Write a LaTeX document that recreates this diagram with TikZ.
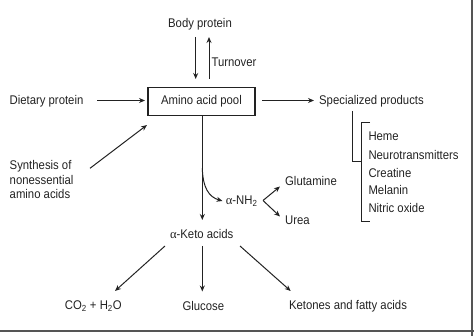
\documentclass[tikz,border=0pt]{standalone}
\usepackage{fontspec}
\setmainfont[FakeStretch=0.9]{Liberation Sans}
\newfontfamily\greekserif{Liberation Serif}
\newcommand{\alphaglyph}{{\greekserif α}}
\usetikzlibrary{arrows.meta}
\definecolor{ink}{HTML}{222222}
\definecolor{frame}{HTML}{555555}
\begin{document}
\begin{tikzpicture}[x=1pt,y=-1pt,
  every node/.style={font=\fontsize{12.6}{14}\selectfont, text=ink, inner sep=0pt},
  arr/.style={draw=ink, line width=1pt, -{Stealth[length=6pt,width=5pt]}},
  ln/.style={draw=ink, line width=1pt},
  poolbox/.style={draw=ink, line width=1.1pt, minimum width=107pt, minimum height=28pt}]
\useasboundingbox (0,0) rectangle (474,336);
\draw[frame, line width=2.2pt] (0,330.7) -- (474,330.7);
\draw[frame, line width=2.2pt] (472,0) -- (472,336);

\node (body) at (200,24) {Body protein};
\node (pool) [poolbox] at (201.5,101.5) {Amino acid pool};
\node (turn) at (234,62) {Turnover};
\node (diet) at (46.5,101) {Dietary protein};
\node (spec) at (371.5,101) {Specialized products};
\node (syn) [anchor=west, align=left] at (9.5,179.5) {Synthesis of\\[0.6pt]nonessential\\[0.6pt]amino acids};
\node (keto) at (201.7,234) {\alphaglyph-Keto acids};
\node (nh2) at (241.7,201) {\alphaglyph-NH\textsubscript{2}};
\node (glut) at (311,181) {Glutamine};
\node (urea) at (297.5,220) {Urea};
\node (co2) at (93.3,306) {CO\textsubscript{2} + H\textsubscript{2}O};
\node (gluc) at (203.3,306) {Glucose};
\node (ket) at (348,306) {Ketones and fatty acids};

\node[anchor=west] (heme) at (368.3,136.7) {Heme};
\node[anchor=west] (neuro) at (368.3,154.8) {Neurotransmitters};
\node[anchor=west] (crea) at (368.3,172.5) {Creatine};
\node[anchor=west] (mel) at (368.3,190.2) {Melanin};
\node[anchor=west] (nit) at (368.3,207.8) {Nitric oxide};

% coordinates for arrow ends
\coordinate (bdS) at (195.7,37);
\coordinate (bdE) at (195.7,79);
\coordinate (tuS) at (209,79);
\coordinate (tuE) at (209,37);
\coordinate (dS) at (97,100.5);
\coordinate (dE) at (145,100.5);
\coordinate (sS) at (262,100.5);
\coordinate (sE) at (314,100.5);
\coordinate (synS) at (90,168.3);
\coordinate (synE) at (147,125);
\coordinate (vS) at (202.3,115.5);
\coordinate (vE) at (202.3,220);
\coordinate (cS) at (202.3,168);
\coordinate (cE) at (222.5,201);
\coordinate (nS) at (263,200.5);
\coordinate (gE) at (280,186.5);
\coordinate (uE) at (280,216.5);
\coordinate (k1S) at (165,246);
\coordinate (k1E) at (115,291);
\coordinate (k2S) at (202.3,246);
\coordinate (k2E) at (202.3,291.5);
\coordinate (k3S) at (240,246);
\coordinate (k3E) at (290.7,291);

\draw[arr] (bdS) -- (bdE);
\draw[arr] (tuS) -- (tuE);
\draw[arr] (dS) -- (dE);
\draw[arr] (sS) -- (sE);
\draw[arr] (synS) -- (synE);
\draw[arr] (vS) -- (vE);
\draw[arr] (cS) .. controls (202.8,188) and (209,197) .. (cE);
\draw[arr] (nS) -- (gE);
\draw[arr] (nS) -- (uE);
\draw[arr] (k1S) -- (k1E);
\draw[arr] (k2S) -- (k2E);
\draw[arr] (k3S) -- (k3E);

% bracket
\coordinate (brA) at (352.7,111);
\coordinate (brB) at (352.7,161.7);
\coordinate (brC) at (361.5,161.7);
\draw[ln] (brA) -- (brB) -- (brC);
\draw[ln] (370,123) -- (361.5,123) -- (361.5,221.7) -- (370,221.7);
\end{tikzpicture}
\end{document}
